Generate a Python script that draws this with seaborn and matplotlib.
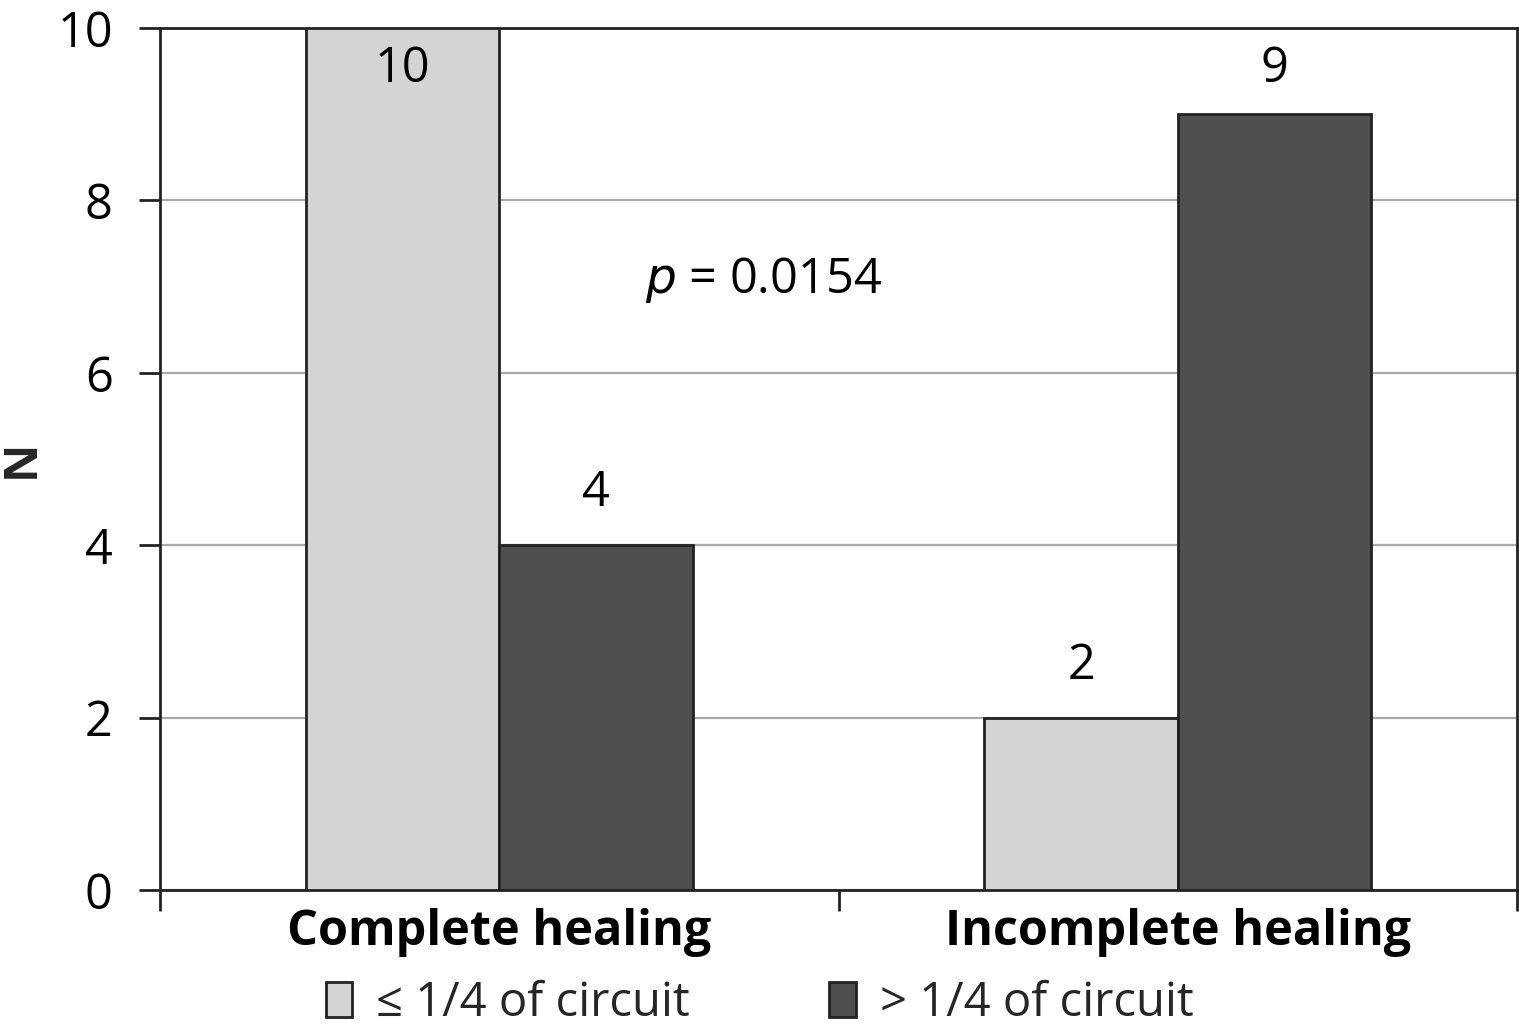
import matplotlib
matplotlib.use("Agg")
import matplotlib.pyplot as plt
import seaborn as sns
import pandas as pd
from matplotlib.ticker import FixedLocator

categories = ["Complete healing", "Incomplete healing"]
series_names = ["\u2264 1/4 of circuit", "> 1/4 of circuit"]
small_vals = [10, 2]
large_vals = [4, 9]
y_ticks = [0, 2, 4, 6, 8, 10]
p_text = "0.0154"

colors = ["#d4d4d4", "#4f4f4f"]
edge = "#222222"

rows = []
for c, v in zip(categories, small_vals):
    rows.append({"cat": c, "grp": series_names[0], "N": v})
for c, v in zip(categories, large_vals):
    rows.append({"cat": c, "grp": series_names[1], "N": v})
df = pd.DataFrame(rows)

sns.set_theme(style="white")
plt.rcParams["font.family"] = ["Open Sans", "DejaVu Sans"]

fig = plt.figure(figsize=(15.19, 10.27), dpi=100)
ax = fig.add_axes([160/1519, 1-890/1027, (1517-160)/1519, (890-28)/1027])

sns.barplot(data=df, x="cat", y="N", hue="grp", order=categories,
            hue_order=series_names, palette=colors, width=0.57, gap=0,
            edgecolor=edge, linewidth=2, ax=ax, zorder=3, legend=True)

ax.set_xlim(-0.5, 1.5)
ax.set_ylim(0, 10)
ax.set_yticks(y_ticks)
ax.set_yticklabels([str(t) for t in y_ticks])
ax.yaxis.grid(True, color="#aaaaaa", linewidth=1.6, zorder=0)
ax.set_axisbelow(True)
for s in ax.spines.values():
    s.set_visible(True)
    s.set_color(edge)
    s.set_linewidth(2)

ax.tick_params(axis="y", direction="out", length=15, width=2, color=edge,
               labelsize=35, pad=19, left=True, labelcolor="black")
ax.tick_params(axis="x", which="major", length=0, labelsize=35, pad=13,
               labelcolor="black")
ax.xaxis.set_minor_locator(FixedLocator([-0.5, 0.5, 1.5]))
ax.tick_params(axis="x", which="minor", direction="out", length=15, width=2,
               color=edge, bottom=True)
for lab in ax.get_xticklabels():
    lab.set_fontweight("bold")

ax.set_xlabel("")
ax.set_ylabel("N", fontsize=34, fontweight="bold", labelpad=9)

# value labels
for container in ax.containers:
    for bar in container:
        v = bar.get_height()
        x = bar.get_x() + bar.get_width()/2
        y = min(v + 0.6, 9.52)
        ax.text(x, y, f"{int(v)}", ha="center", va="center", fontsize=35,
                color="black", zorder=5)

ax.text(0.215, 7.08, r"$\it{p}$ = " + p_text, ha="left", va="center",
        fontsize=35, color="black", zorder=5)

handles, labels = ax.get_legend_handles_labels()
ax.get_legend().remove()
fig.legend(handles, labels, loc="center", bbox_to_anchor=(0.5, 1-1003/1027),
           ncol=2, frameon=False, fontsize=34, handlelength=0.57,
           handleheight=0.77, handletextpad=0.5, columnspacing=2.95,
           borderpad=0)

fig.savefig("out.png", dpi=100)
